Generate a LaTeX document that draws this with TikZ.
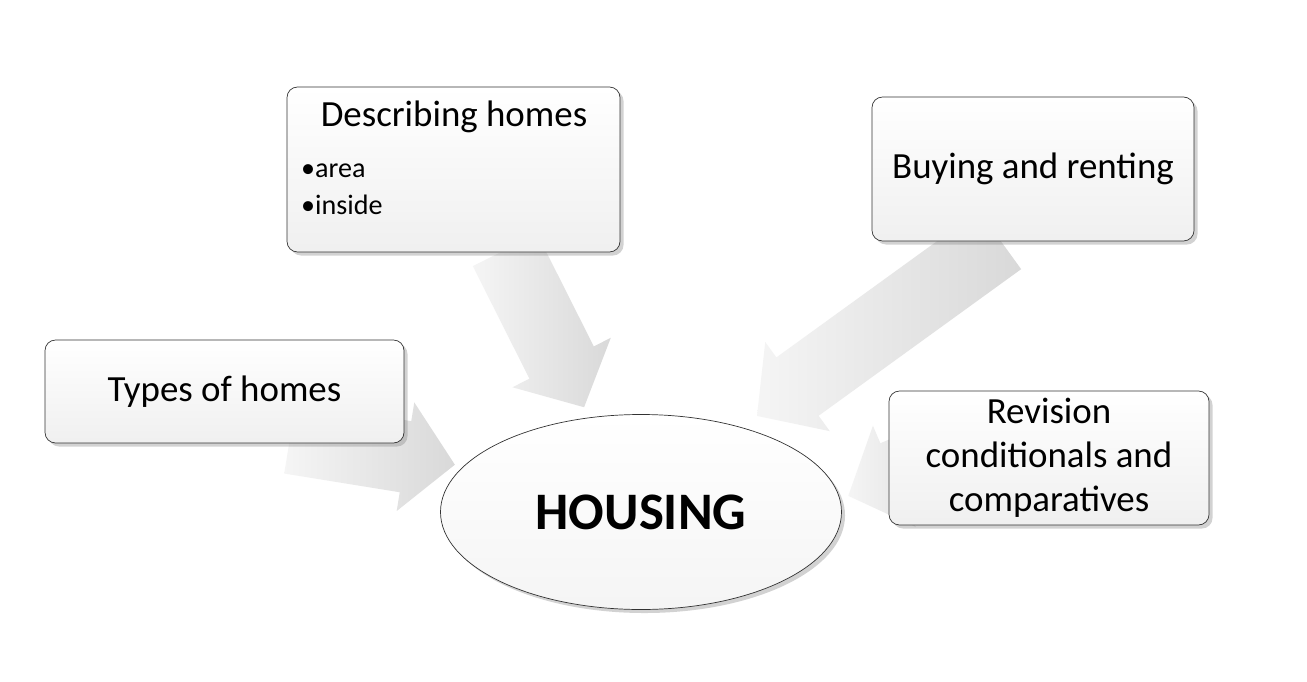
\documentclass[tikz,border=0pt]{standalone}
\usepackage{fontspec}
\setmainfont{Carlito}
\usetikzlibrary{shadows,shapes.geometric}
\tikzset{
  topicbox/.style={draw=black!80, rounded corners=6pt, top color=white, bottom color=gray!12, drop shadow={opacity=0.35,shadow xshift=2pt,shadow yshift=-2pt}, font=\fontsize{21}{25}\selectfont, align=center, inner sep=0pt},
  blockarr/.style={left color=gray!8, right color=gray!30, draw=none}
}
\newcommand{\blockarrow}[4]{% x,y,angle,length
  \begin{scope}[shift={(#1,#2)}, rotate=#3]
    \path[blockarr] (0,-36) -- (#4-50,-36) -- (#4-50,-55) -- (#4,0) -- (#4-50,55) -- (#4-50,36) -- (0,36) -- cycle;
  \end{scope}}
\begin{document}
\begin{tikzpicture}[x=0.02cm,y=-0.02cm]
\useasboundingbox[fill=white] (0,0) rectangle (1307,682);
\blockarrow{505}{250}{-63.3}{176}
\blockarrow{1000}{240}{215.9}{300}
\blockarrow{290}{438}{-9.2}{167}
\blockarrow{945}{455}{202.9}{105}
\node[topicbox, minimum width=333*0.02cm, minimum height=165*0.02cm] (desc) at (453.5,169.5) {};
\node[font=\fontsize{21}{25}\selectfont] (desct) at (454,117) {Describing homes};
\node[anchor=west, font=\fontsize{16}{20}\selectfont, align=left] (descl) at (295,189) {\textbullet area\\[1pt]\textbullet inside};
\node[topicbox, minimum width=322*0.02cm, minimum height=144*0.02cm] (buy) at (1033,169) {Buying and renting};
\node[topicbox, minimum width=359*0.02cm, minimum height=103*0.02cm] (types) at (224.5,391.5) {Types of homes};
\node[topicbox, minimum width=320*0.02cm, minimum height=134*0.02cm] (rev) at (1049,458) {Revision\\conditionals and\\comparatives};
\node[draw=black!80, ellipse, minimum width=401*0.02cm, minimum height=195*0.02cm, top color=white, bottom color=gray!8, drop shadow={opacity=0.35,shadow xshift=2pt,shadow yshift=-2pt}, font=\fontsize{30}{34}\selectfont\bfseries] (h) at (641,512) {HOUSING};
\end{tikzpicture}
\end{document}
